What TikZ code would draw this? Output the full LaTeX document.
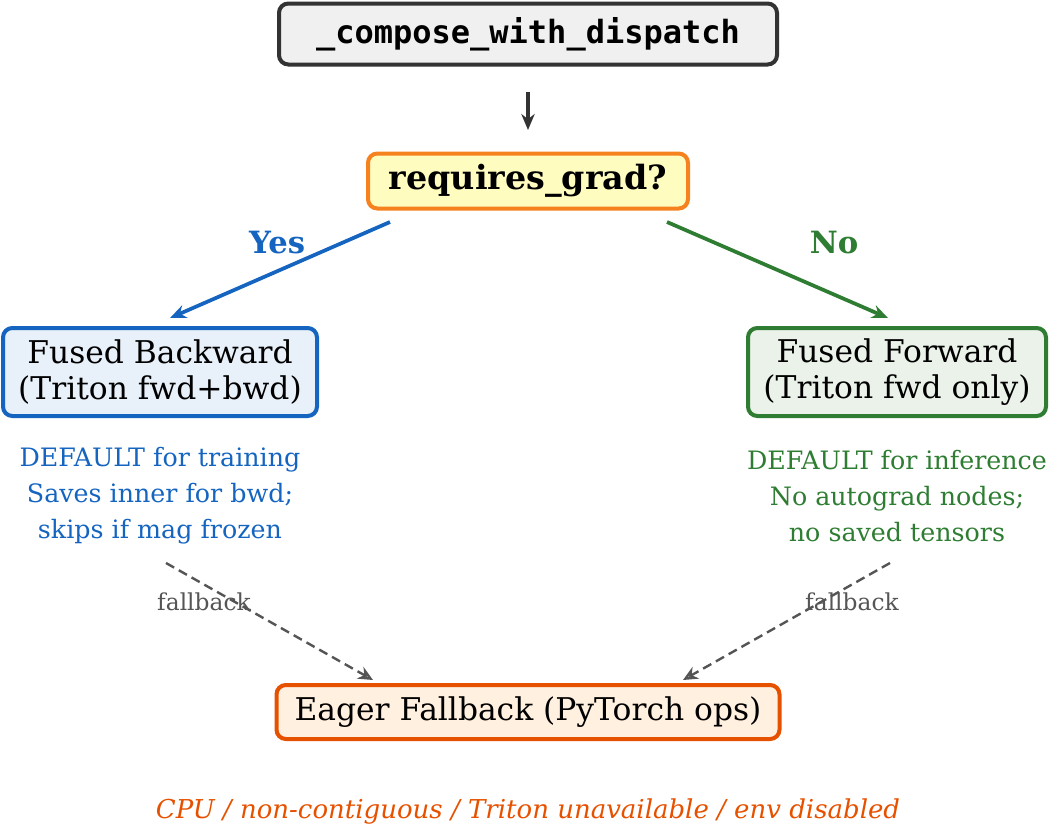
\documentclass[tikz,border=0pt]{standalone}
\usepackage{fontspec}
\setmainfont{DejaVu Serif}
\newfontfamily\monof{DejaVu Sans Mono}
\usetikzlibrary{arrows.meta}
\definecolor{cblue}{HTML}{1565C0}
\definecolor{cgreen}{HTML}{2E7D32}
\definecolor{corange}{HTML}{F5821F}
\definecolor{cdorange}{HTML}{E65100}
\definecolor{cgray}{HTML}{555555}
\definecolor{cdark}{HTML}{333333}
\begin{document}
\begin{tikzpicture}[x=0.75pt,y=-0.75pt,
 box/.style={draw,line width=3pt,rounded corners=7pt,align=center,inner sep=0pt},
 arr/.style={-{Stealth[length=12pt,width=10pt]},line width=2.8pt},
 darr/.style={-{Stealth[length=11pt,width=10pt,open]},line width=1.8pt,cgray,dash pattern=on 7pt off 4pt}]
\useasboundingbox (0,0) rectangle (1058,829);
\node[box,draw=cdark,fill=black!6,minimum width=498*0.75pt,minimum height=61*0.75pt,font=\monof\bfseries\fontsize{24}{28}\selectfont] (top) at (528,34) {\_compose\_with\_dispatch};
\node[box,draw=corange,fill=yellow!25,minimum width=320*0.75pt,minimum height=55*0.75pt,font=\bfseries\fontsize{25}{30}\selectfont] (rg) at (528,181) {requires\_grad?};
\node[box,draw=cblue,fill=cblue!10,minimum width=314*0.75pt,minimum height=88*0.75pt,font=\fontsize{23.5}{27}\selectfont] (fb) at (160,372) {Fused Backward\\(Triton fwd+bwd)};
\node[box,draw=cgreen,fill=cgreen!10,minimum width=298*0.75pt,minimum height=88*0.75pt,font=\fontsize{23.5}{27}\selectfont] (ff) at (897,372) {Fused Forward\\(Triton fwd only)};
\node[box,draw=cdorange,fill=orange!12,minimum width=503*0.75pt,minimum height=54*0.75pt,font=\fontsize{23.5}{27}\selectfont] (eg) at (528,712) {Eager Fallback (PyTorch ops)};
\node[text=cblue,align=center,font=\fontsize{19}{27}\selectfont] (nl) at (160,496) {DEFAULT for training\\Saves inner for bwd;\\skips if mag frozen};
\node[text=cgreen,align=center,font=\fontsize{19}{27}\selectfont] (nr) at (897,496) {DEFAULT for inference\\No autograd nodes;\\no saved tensors};
\node[text=cdorange,font=\itshape\fontsize{19.5}{23}\selectfont] (ft) at (528,812) {CPU / non-contiguous / Triton unavailable / env disabled};
\coordinate (a0) at (528,92); \coordinate (a1) at (528,130);
\coordinate (y0) at (390,222); \coordinate (y1) at (170,318);
\coordinate (n0) at (667,222); \coordinate (n1) at (888,318);
\coordinate (l0) at (166,563); \coordinate (l1) at (373,680);
\coordinate (r0) at (890,563); \coordinate (r1) at (683,680);
\draw[arr,cdark] (a0) -- (a1);
\draw[arr,cblue] (y0) -- (y1);
\draw[arr,cgreen] (n0) -- (n1);
\draw[darr] (l0) -- (l1);
\draw[darr] (r0) -- (r1);
\node[text=cblue,font=\bfseries\fontsize{23}{27}\selectfont] (yes) at (277,243) {Yes};
\node[text=cgreen,font=\bfseries\fontsize{23}{27}\selectfont] (no) at (834,243) {No};
\node[text=cgray,font=\fontsize{17.5}{21}\selectfont] (fl) at (204,602) {fallback};
\node[text=cgray,font=\fontsize{17.5}{21}\selectfont] (fr) at (852,602) {fallback};
\end{tikzpicture}
\end{document}
